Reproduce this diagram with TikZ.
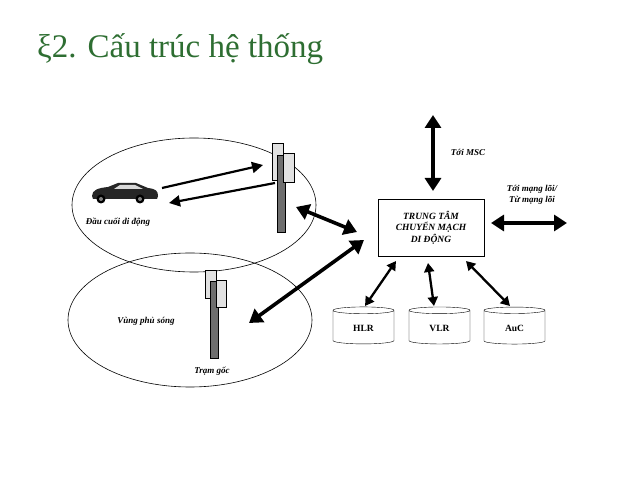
\documentclass[tikz,border=0pt]{standalone}
\usepackage{fontspec}
\setmainfont{Liberation Serif}
\usetikzlibrary{arrows.meta,shapes.geometric}
\definecolor{titlegreen}{RGB}{46,110,50}
\definecolor{towerdark}{RGB}{110,110,110}
\definecolor{towerlight}{RGB}{225,225,225}
\tikzset{
  lbl/.style={font=\fontsize{9}{11}\selectfont\bfseries\itshape, align=center, inner sep=0pt},
  thin arr/.style={line width=2.2pt, -{Triangle[length=11pt,width=11pt]}},
  thick arr/.style={line width=3.6pt, {Triangle[length=13pt,width=16pt]}-{Triangle[length=13pt,width=16pt]}},
  mid arr/.style={line width=2.3pt, {Triangle[length=9pt,width=10pt]}-{Triangle[length=9pt,width=10pt]}},
  db/.style={cylinder, shape border rotate=90, draw, aspect=0.25, minimum width=61pt, minimum height=37pt, font=\fontsize{9.5}{10}\selectfont\bfseries, fill=white},
}
\begin{document}
\begin{tikzpicture}[x=1pt,y=-1pt]
\useasboundingbox (0,0) rectangle (638,478);
\node[anchor=base west, text=titlegreen, font=\fontsize{33}{36}\selectfont, inner sep=0pt] (title) at (37,58) {ξ2. Cấu trúc hệ thống};

% cells
\draw[line width=0.6pt] (194,205) ellipse [x radius=122, y radius=67];
\draw[line width=0.6pt] (190,320) ellipse [x radius=122, y radius=67];

% tower 1
\draw[fill=towerlight] (272,143) rectangle (283,180);
\draw[fill=towerdark] (277,155) rectangle (285,232);
\draw[fill=towerlight] (283,153) rectangle (294,182);
% tower 2
\draw[fill=towerlight] (205,270) rectangle (216,298);
\draw[fill=towerdark] (210,281) rectangle (218,358);
\draw[fill=towerlight] (216,280) rectangle (226,307);

% car
\fill[black!85] (92,196) .. controls (92,190) and (98,188) .. (108,187)
  -- (118,183) -- (136,183) -- (148,188) .. controls (156,189) and (158,191) .. (158,196)
  -- (157,199) -- (93,199) -- cycle;
\fill[white!70!gray] (120,185) -- (135,185) -- (143,189) -- (114,189) -- cycle;
\fill[black] (101,199) circle (4.5); \fill[gray] (101,199) circle (2);
\fill[black] (140,199) circle (4.5); \fill[gray] (140,199) circle (2);

\coordinate (a1s) at (162,188); \coordinate (a1e) at (263,165);
\coordinate (a2s) at (275,183); \coordinate (a2e) at (169,203);
\draw[thin arr] (a1s) -- (a1e);
\draw[thin arr] (a2s) -- (a2e);

\node[lbl] (ue) at (118,222) {Đầu cuối di động};
\node[lbl] (cov) at (146,321) {Vùng phủ sóng};
\node[lbl] (bs) at (212,371) {Trạm gốc};

% MSC box
\node[draw, line width=0.8pt, minimum width=106pt, minimum height=57pt, lbl, font=\fontsize{9.5}{11.5}\selectfont\bfseries\itshape] (msc) at (431,227.5) {TRUNG TÂM\\CHUYỂN MẠCH\\DI ĐỘNG};

\coordinate (b1) at (296,207); \coordinate (b1e) at (357,232);
\coordinate (b2s) at (364,240); \coordinate (b2e) at (249,323);
\draw[thick arr] (b1) -- (b1e);
\draw[thick arr] (b2s) -- (b2e);

\coordinate (top) at (433,115); \coordinate (topb) at (433,191);
\draw[thick arr] (top) -- (topb);
\node[lbl] (tmsc) at (468,152) {Tới MSC};
\coordinate (r1) at (491,223); \coordinate (r2) at (567,223);
\draw[thick arr] (r1) -- (r2);
\node[lbl] (tcore) at (532,195) {Tới mạng lõi/\\Từ mạng lõi};

% databases
\node[db] (hlr) at (363.5,328) {HLR};
\node[db] (vlr) at (439.5,328) {VLR};
\node[db] (auc) at (514.5,328) {AuC};
\draw[mid arr] (396,261) -- (365,306);
\draw[mid arr] (428,263) -- (434,306);
\draw[mid arr] (466,261) -- (510,306);
\end{tikzpicture}
\end{document}
